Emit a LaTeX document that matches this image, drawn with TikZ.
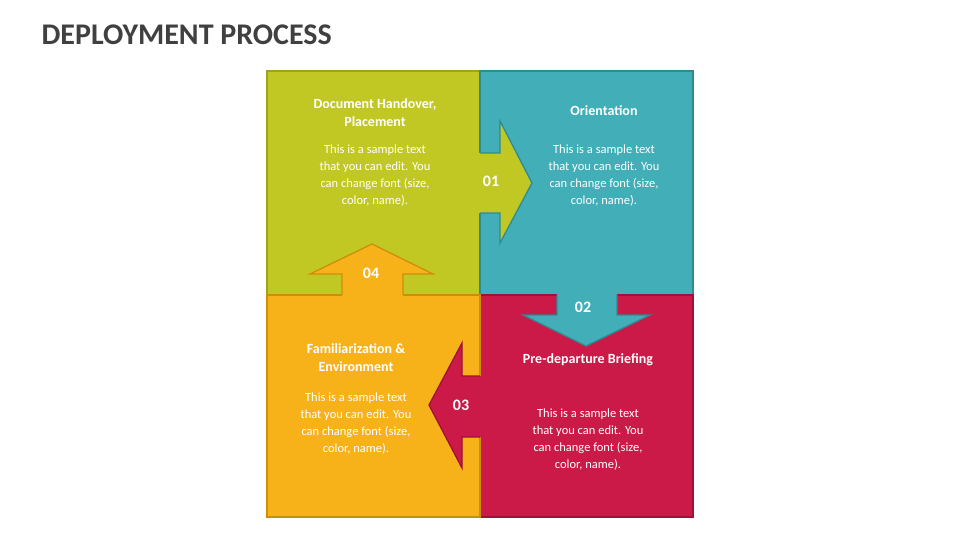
\documentclass[tikz,border=0pt]{standalone}
\usepackage{fontspec}
\setmainfont{Carlito}
\definecolor{cg}{HTML}{C2C823}\definecolor{cgd}{HTML}{9EA31A}
\definecolor{ct}{HTML}{41AEB8}\definecolor{ctd}{HTML}{2E8A93}
\definecolor{cr}{HTML}{CB1A47}\definecolor{crd}{HTML}{9E1238}
\definecolor{co}{HTML}{F8B219}\definecolor{cod}{HTML}{CC8E0C}
\definecolor{ttl}{HTML}{404040}
\tikzset{hd/.style={text=white,font=\bfseries\fontsize{14}{18}\selectfont,align=center},
bd/.style={text=white,font=\fontsize{12.5}{17}\selectfont,align=center},
num/.style={text=white,font=\bfseries\fontsize{16}{18}\selectfont},
pc/.style={line width=1.3pt,line join=miter}}
\begin{document}
\begin{tikzpicture}[x=1pt,y=-1pt]
\useasboundingbox (0,0) rectangle (960,540);
\node[anchor=west,text=ttl,font=\bfseries\fontsize{30}{34}\selectfont] (title) at (38,35) {DEPLOYMENT PROCESS};
% rectangles
\filldraw[pc,fill=cg,draw=cgd] (267,71) rectangle (480,295);
\filldraw[pc,fill=ct,draw=ctd] (480,71) rectangle (693,295);
\filldraw[pc,fill=cr,draw=crd] (480,295) rectangle (693,517);
\filldraw[pc,fill=co,draw=cod] (267,295) rectangle (480,517);
% arrows
\fill[cg] (478,153) -- (500,153) -- (500,121) -- (532,183) -- (500,243) -- (500,213) -- (478,213) -- cycle;
\draw[pc,draw=ctd] (480,153) -- (500,153) -- (500,121) -- (532,183) -- (500,243) -- (500,213) -- (480,213);
\fill[ct] (557,293) -- (557,315) -- (523,315) -- (586,346) -- (650,315) -- (617,315) -- (617,293) -- cycle;
\draw[pc,draw=ctd] (557,295) -- (557,315) -- (523,315) -- (586,346) -- (650,315) -- (617,315) -- (617,295);
\fill[cr] (482,376) -- (462,376) -- (462,343) -- (429,405) -- (462,468) -- (462,437) -- (482,437) -- cycle;
\draw[pc,draw=crd] (480,376) -- (462,376) -- (462,343) -- (429,405) -- (462,468) -- (462,437) -- (480,437);
\fill[co] (342,297) -- (342,274) -- (310,274) -- (372,244) -- (433,274) -- (403,274) -- (403,297) -- cycle;
\draw[pc,draw=cod] (342,295) -- (342,274) -- (310,274) -- (372,244) -- (433,274) -- (403,274) -- (403,295);
% numbers
\node[num] (n1) at (491,181) {01};
\node[num] (n2) at (583,307) {02};
\node[num] (n3) at (461,405) {03};
\node[num] (n4) at (371,273) {04};
% texts
\node[hd] (h1) at (375,113) {Document Handover,\\Placement};
\node[bd] (b1) at (375,176) {This is a sample text\\that you can edit. You\\can change font (size,\\color, name).};
\node[hd] (h2) at (604,111) {Orientation};
\node[bd] (b2) at (604,176) {This is a sample text\\that you can edit. You\\can change font (size,\\color, name).};
\node[hd] (h3) at (588,360) {Pre-departure Briefing};
\node[bd] (b3) at (588,440) {This is a sample text\\that you can edit. You\\can change font (size,\\color, name).};
\node[hd] (h4) at (356,358) {Familiarization \&\\Environment};
\node[bd] (b4) at (356,424) {This is a sample text\\that you can edit. You\\can change font (size,\\color, name).};
\end{tikzpicture}
\end{document}
